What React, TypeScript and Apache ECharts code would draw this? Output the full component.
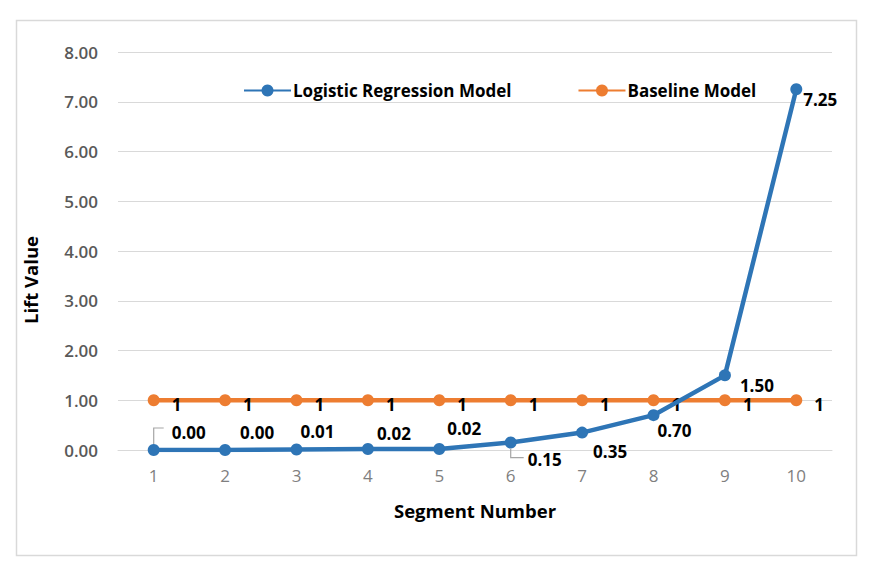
import * as echarts from "echarts"
import { useEffect, useRef } from "react"

// Lift per segment: the fitted logistic model against a flat baseline of 1.
const segments = ["1", "2", "3", "4", "5", "6", "7", "8", "9", "10"]
const logisticLift = [0.0, 0.0, 0.01, 0.02, 0.02, 0.15, 0.35, 0.7, 1.5, 7.25]
const baselineLift = [1, 1, 1, 1, 1, 1, 1, 1, 1, 1]

// where each logistic label sits relative to its point, Excel-style hand placement
const logisticLabelShift = [
  [7, -18], [4, -18], [-7, -18], [-2, -16], [-3, -21],
  [6, 17], [0, 19], [-7, 15], [4, 10], [-4, 10],
]
// labels that were dragged far enough for Excel to draw a leader line: [index, up(-1)/down(1)]
const leaderLabels: [number, number][] = [[0, -1], [5, 1]]

const BLUE = "#2e75b6"
const ORANGE = "#ed7d31"
const FONT = "'Open Sans', 'Noto Sans', sans-serif"

export default function App() {
  const ref = useRef<HTMLDivElement>(null)

  useEffect(() => {
    document.body.style.margin = "0"
    if (!ref.current) return
    const chart = echarts.init(ref.current, null, { renderer: "svg" })

    const dataLabel = {
      show: true,
      position: "right",
      color: "#000",
      fontFamily: FONT,
      fontSize: 17,
      fontWeight: "bold",
    }

    chart.setOption({
      animation: false,
      backgroundColor: "#fff",
      textStyle: { fontFamily: FONT },
      graphic: [
        {
          type: "rect",
          shape: { x: 16.5, y: 20.5, width: 840, height: 535 },
          style: { fill: "none", stroke: "#d9d9d9", lineWidth: 1.5 },
          silent: true,
        },
      ],
      grid: { left: 118, right: 51, top: 52, bottom: 126 },
      legend: {
        data: ["Logistic Regression Model", "Baseline Model"],
        left: 238,
        top: 77,
        itemWidth: 47,
        itemHeight: 15,
        itemGap: 66,
        textStyle: { color: "#000", fontSize: 17, fontWeight: "bold", fontFamily: FONT, padding: [0, 0, 0, -3] },
      },
      xAxis: {
        type: "category",
        data: segments,
        name: "Segment Number",
        nameLocation: "middle",
        nameGap: 51,
        nameTextStyle: { color: "#000", fontSize: 18.5, fontWeight: "bold" },
        axisLine: { show: true, lineStyle: { color: "#d9d9d9", width: 1 } },
        axisTick: { show: false },
        axisLabel: { color: "#7f7f7f", fontSize: 17, margin: 17 },
      },
      yAxis: {
        type: "value",
        min: 0,
        max: 8,
        interval: 1,
        name: "Lift Value",
        nameLocation: "middle",
        nameGap: 78,
        nameTextStyle: { color: "#000", fontSize: 18.5, fontWeight: "bold", padding: [0, 58, 0, 0] },
        axisLabel: { color: "#595959", fontSize: 17, fontWeight: 600, margin: 20, formatter: (v: number) => v.toFixed(2) },
        splitLine: { lineStyle: { color: "#d9d9d9", width: 1 } },
      },
      series: [
        {
          name: "Baseline Model",
          type: "line",
          data: baselineLift,
          z: 2,
          symbol: "circle",
          symbolSize: 12,
          lineStyle: { color: ORANGE, width: 4.5 },
          itemStyle: { color: ORANGE },
          label: { ...dataLabel, formatter: (p: { value: number }) => String(p.value), offset: [7, 4] },
        },
        {
          name: "Logistic Regression Model",
          type: "line",
          data: logisticLift,
          z: 3,
          symbol: "circle",
          symbolSize: 12,
          lineStyle: { color: BLUE, width: 4.5 },
          itemStyle: { color: BLUE },
          label: { ...dataLabel, formatter: (p: { value: number }) => p.value.toFixed(2) },
          labelLayout: (p: { dataIndex: number }) => {
            const [dx, dy] = logisticLabelShift[p.dataIndex]
            return { dx, dy }
          },
        },
        {
          // elbow leader lines from a point to its moved label
          type: "custom",
          z: 4,
          silent: true,
          data: leaderLabels.map(([i, dir]) => [i, logisticLift[i], dir]),
          encode: { x: 0, y: 1 },
          renderItem: (_: unknown, api: any) => {
            const [x, y] = api.coord([api.value(0), api.value(1)])
            const dir = api.value(2)
            const reach = dir < 0 ? 22 : 15
            const run = dir < 0 ? 10 : 13
            return {
              type: "polyline",
              shape: { points: [[x, y + dir * 6], [x, y + dir * reach], [x + run, y + dir * reach]] },
              style: { stroke: "#a6a6a6", lineWidth: 1.2, fill: "none" },
            }
          },
        },
      ],
    })

    return () => chart.dispose()
  }, [])

  return <div ref={ref} style={{ width: 883, height: 576 }} />
}
